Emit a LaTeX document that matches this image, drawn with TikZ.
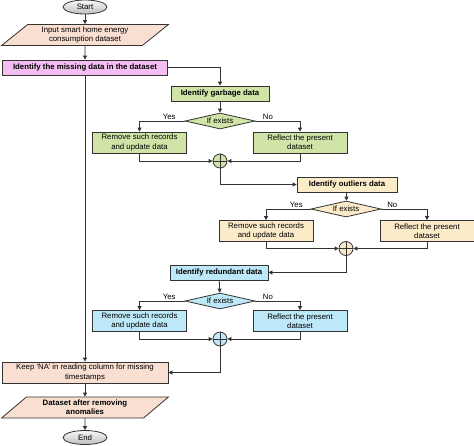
\documentclass[tikz,border=0pt]{standalone}
\usepackage{fontspec}
\setmainfont{Liberation Sans}
\usepackage{tikz}
\usetikzlibrary{shapes.geometric, arrows.meta}
\definecolor{FlowLine}{HTML}{333333}
\definecolor{InPeach}{HTML}{F9DFD2}
\definecolor{MissPink}{HTML}{F4BEF2}
\definecolor{GarbGreen}{HTML}{D0E4A8}
\definecolor{OutYellow}{HTML}{FCEBC8}
\definecolor{RedBlue}{HTML}{BDE8F8}

\begin{document}
\begin{tikzpicture}[x=1pt, y=-1pt, font=\fontsize{7.8}{9.3}\selectfont]
\tikzset{
  flow/.style={draw=FlowLine, line width=0.8pt, -{Triangle[length=4pt, width=4pt]}},
  link/.style={draw=FlowLine, line width=0.8pt},
  procbox/.style={draw=FlowLine, line width=0.8pt, rectangle, inner sep=0pt, align=center, minimum width=94, minimum height=21},
  headbox/.style={procbox, font=\fontsize{7.8}{9.3}\selectfont\bfseries, minimum height=15},
  iobox/.style={draw=FlowLine, line width=0.8pt, trapezium, trapezium left angle=40, trapezium right angle=140, trapezium stretches=true, fill=InPeach, inner sep=0pt, align=center, minimum width=167, minimum height=21},
  term/.style={draw=FlowLine, line width=0.8pt, ellipse, top color=gray!6, bottom color=gray!50, minimum width=44, minimum height=14, inner sep=0pt},
  test/.style={draw=FlowLine, line width=0.8pt, diamond, aspect=4.4, inner sep=0pt, minimum width=70, minimum height=16},
  joint/.style={draw=FlowLine, line width=0.8pt, circle, minimum size=14, inner sep=0pt},
  lbl/.style={above, inner sep=0.8pt}
}
\useasboundingbox (0,0) rectangle (474,445);

% main column
\node[term] (start) at (85,7) {Start};
\node[iobox] (input) at (85,35) {Input smart home energy\\consumption dataset};
\node[headbox, fill=MissPink, minimum width=165] (missing) at (85,67.5) {Identify the missing data in the dataset};
\node[procbox, fill=InPeach, minimum width=166] (keep) at (85,372.5) {Keep `NA' in reading column for missing\\timestamps};
\node[iobox, font=\fontsize{7.8}{9.3}\selectfont\bfseries] (result) at (85,407.5) {Dataset after removing\\anomalies};
\node[term] (end) at (85,437.5) {End};

% garbage data
\node[headbox, fill=GarbGreen, minimum width=98] (garbage) at (220,93.5) {Identify garbage data};
\node[test, fill=GarbGreen] (gtest) at (220,121) {If exists};
\node[procbox, fill=GarbGreen] (gyes) at (139.5,142.5) {Remove such records\\and update data};
\node[procbox, fill=GarbGreen] (gno) at (300,142.5) {Reflect the present\\dataset};
\node[joint, fill=GarbGreen] (gsum) at (220,161) {};

% outliers data
\node[headbox, fill=OutYellow, minimum width=100] (outlier) at (347,184.5) {Identify outliers data};
\node[test, fill=OutYellow] (otest) at (346,209) {If exists};
\node[procbox, fill=OutYellow] (oyes) at (266,231) {Remove such records\\and update data};
\node[procbox, fill=OutYellow] (ono) at (427,231) {Reflect the present\\dataset};
\node[joint, fill=OutYellow] (osum) at (346,248.5) {};

% redundant data
\node[headbox, fill=RedBlue, minimum width=98] (redund) at (219,272.5) {Identify redundant data};
\node[test, fill=RedBlue] (rtest) at (220,301) {If exists};
\node[procbox, fill=RedBlue] (ryes) at (139.5,321) {Remove such records\\and update data};
\node[procbox, fill=RedBlue] (rno) at (300,321) {Reflect the present\\dataset};
\node[joint, fill=RedBlue] (rsum) at (220,339) {};

% plus signs
\foreach \s in {gsum, osum, rsum}
  \draw[link] (\s.north) -- (\s.south) (\s.west) -- (\s.east);

% connectors
\draw[flow] (start) -- (input);
\draw[flow] (input) -- (missing);
\draw[flow] (missing.east) -| (garbage.north);
\draw[flow] (missing.south) -- (keep.north);
\draw[flow] (garbage) -- (gtest);
\draw[flow] (gtest.west) -| node[lbl, pos=0.17] {Yes} (gyes.north);
\draw[flow] (gtest.east) -| node[lbl, pos=0.14] {No} (gno.north);
\draw[flow] (gyes.south) |- (gsum.west);
\draw[flow] (gno.south) |- (gsum.east);
\draw[flow] (gsum.south) |- (outlier.west);
\draw[flow] (outlier) -- (otest);
\draw[flow] (otest.west) -| node[lbl, pos=0.16] {Yes} (oyes.north);
\draw[flow] (otest.east) -| node[lbl, pos=0.12] {No} (ono.north);
\draw[flow] (oyes.south) |- (osum.west);
\draw[flow] (ono.south) |- (osum.east);
\draw[flow] (osum.south) |- (redund.east);
\draw[flow] (redund) -- (rtest);
\draw[flow] (rtest.west) -| node[lbl, pos=0.17] {Yes} (ryes.north);
\draw[flow] (rtest.east) -| node[lbl, pos=0.14] {No} (rno.north);
\draw[flow] (ryes.south) |- (rsum.west);
\draw[flow] (rno.south) |- (rsum.east);
\draw[flow] (rsum.south) |- (keep.east);
\draw[flow] (keep) -- (result);
\draw[flow] (result) -- (end);
\end{tikzpicture}
\end{document}
